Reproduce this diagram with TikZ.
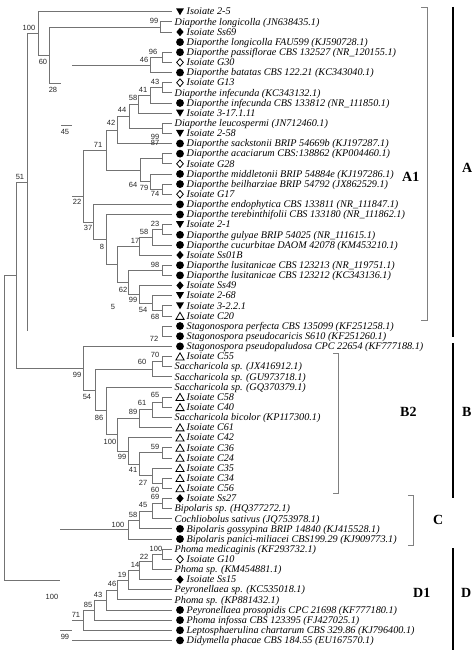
\documentclass[tikz,border=0pt]{standalone}
\usepackage{fontspec}
\setmainfont{Liberation Serif}
\newfontfamily\bsfont{Liberation Sans}
\usetikzlibrary{shapes.geometric}
\begin{document}
\begin{tikzpicture}[x=1pt,y=-1pt,
  br/.style={draw=black!55, line width=0.7pt},
  lf/.style={anchor=base west, inner sep=0pt, font=\fontsize{10.2}{10.2}\selectfont\itshape},
  bs/.style={inner sep=0pt, font=\bsfont\fontsize{7.5}{7.5}\selectfont, text=black!85},
  cl/.style={anchor=west, inner sep=0pt, font=\fontsize{14}{14}\selectfont\bfseries},
  mc/.style={circle, fill=black, inner sep=0pt, minimum size=7.8pt},
  mv/.style={regular polygon, regular polygon sides=3, shape border rotate=180, fill=black, inner sep=0pt, minimum size=9.2pt, yshift=1.1pt},
  md/.style={diamond, fill=black, inner sep=0pt, minimum width=7.4pt, minimum height=8.6pt},
  mod/.style={diamond, draw=black, line width=0.8pt, inner sep=0pt, minimum width=7pt, minimum height=8pt},
  mot/.style={regular polygon, regular polygon sides=3, draw=black, line width=0.8pt, inner sep=0pt, minimum size=9.4pt, yshift=-1.1pt},
  mn/.style={inner sep=0pt, minimum size=0pt},
  bar/.style={draw=black, line width=2.6pt},
  brk/.style={draw=black!50, line width=0.8pt}
]
\useasboundingbox (0,0) rectangle (474,650);

% ---------- leaves ----------
\foreach \i/\m/\tx/\t in {
 0/mv/186.5/Isoiate 2-5,
 1/mn/174.5/Diaporthe longicolla (JN638435.1),
 2/md/186.5/Isoiate Ss69,
 3/mc/186.5/Diaporthe longicolla FAU599 (KJ590728.1),
 4/mc/186.5/Diaporthe passiflorae CBS 132527 (NR\_120155.1),
 5/mod/186.5/Isoiate G30,
 6/mc/186.5/Diaporthe batatas CBS 122.21 (KC343040.1),
 7/mod/186.5/Isoiate G13,
 8/mn/174.5/Diaporthe infecunda (KC343132.1),
 9/mc/186.5/Diaporthe infecunda CBS 133812 (NR\_111850.1),
 10/mv/186.5/Isoiate 3-17.1.11,
 11/mn/174.5/Diaporthe leucospermi (JN712460.1),
 12/mv/186.5/Isoiate 2-58,
 13/mc/186.5/Diaporthe sackstonii BRIP 54669b (KJ197287.1),
 14/mc/186.5/Diaporthe acaciarum CBS:138862 (KP004460.1),
 15/mod/186.5/Isoiate G28,
 16/mc/186.5/Diaporthe middletonii BRIP 54884e (KJ197286.1),
 17/mc/186.5/Diaporthe beilharziae BRIP 54792 (JX862529.1),
 18/mod/186.5/Isoiate G17,
 19/mc/186.5/Diaporthe endophytica CBS 133811 (NR\_111847.1),
 20/mc/186.5/Diaporthe terebinthifolii CBS 133180 (NR\_111862.1),
 21/mv/186.5/Isoiate 2-1,
 22/mc/186.5/Diaporthe gulyae BRIP 54025 (NR\_111615.1),
 23/mc/186.5/Diaporthe cucurbitae DAOM 42078 (KM453210.1),
 24/md/186.5/Isoiate Ss01B,
 25/mc/186.5/Diaporthe lusitanicae CBS 123213 (NR\_119751.1),
 26/mc/186.5/Diaporthe lusitanicae CBS 123212 (KC343136.1),
 27/md/186.5/Isoiate Ss49,
 28/mv/186.5/Isoiate 2-68,
 29/mv/186.5/Isoiate 3-2.2.1,
 30/mot/186.5/Isoiate C20,
 31/mc/186.5/Stagonospora perfecta CBS 135099 (KF251258.1),
 32/mc/186.5/Stagonospora pseudocaricis S610 (KF251260.1),
 33/mc/186.5/Stagonospora pseudopaludosa CPC 22654 (KF777188.1),
 34/mot/186.5/Isoiate C55,
 35/mn/174.5/Saccharicola sp. (JX416912.1),
 36/mn/174.5/Saccharicola sp. (GU973718.1),
 37/mn/174.5/Saccharicola sp. (GQ370379.1),
 38/mot/186.5/Isoiate C58,
 39/mot/186.5/Isoiate C40,
 40/mn/174.5/Saccharicola bicolor (KP117300.1),
 41/mot/186.5/Isoiate C61,
 42/mot/186.5/Isoiate C42,
 43/mot/186.5/Isoiate C36,
 44/mot/186.5/Isoiate C24,
 45/mot/186.5/Isoiate C35,
 46/mot/186.5/Isoiate C34,
 47/mot/186.5/Isoiate C56,
 48/md/186.5/Isoiate Ss27,
 49/mn/174.5/Bipolaris sp. (HQ377272.1),
 50/mn/174.5/Cochliobolus sativus (JQ753978.1),
 51/mc/186.5/Bipolaris gossypina BRIP 14840 (KJ415528.1),
 52/mc/186.5/Bipolaris panici-miliacei CBS199.29 (KJ909773.1),
 53/mn/174.5/Phoma medicaginis (KF293732.1),
 54/mod/186.5/Isoiate G10,
 55/mn/174.5/Phoma sp. (KM454881.1),
 56/md/186.5/Isoiate Ss15,
 57/mn/174.5/Peyronellaea sp. (KC535018.1),
 58/mn/174.5/Phoma sp. (KP881432.1),
 59/mc/186.5/Peyronellaea prosopidis CPC 21698 (KF777180.1),
 60/mc/186.5/Phoma infossa CBS 123395 (FJ427025.1),
 61/mc/186.5/Leptosphaerulina chartarum CBS 329.86 (KJ796400.1),
 62/mc/186.5/Didymella phacae CBS 184.55 (EU167570.1)}
{
  \coordinate (l\i) at (172,{11.7+10.14*\i});
  \node[\m] (m\i) at (180,{11.7+10.14*\i}) {};
  \node[lf] (t\i) at (\tx,{15.0+10.14*\i}) {\t};
}

% ---------- internal nodes ----------
\coordinate (n99a) at (160,26.91);
\coordinate (n96) at (162,57.33);
\coordinate (n46) at (150,64.94);
\coordinate (n43) at (162,87.75);
\coordinate (n41) at (150,95.36);
\coordinate (n58) at (138,104.23);
\coordinate (n99b) at (162,128.31);
\coordinate (n44) at (129,116.27);
\coordinate (n42) at (117,129.90);
\coordinate (n87) at (162,158.73);
\coordinate (n74) at (162,189.15);
\coordinate (n79) at (150,181.55);
\coordinate (n64) at (140,170.14);
\coordinate (n71) at (106,150.02);
\coordinate (n23) at (162,229.71);
\coordinate (n58c) at (152,237.32);
\coordinate (n17) at (139,246.19);
\coordinate (n98) at (162,270.27);
\coordinate (n68) at (162,310.83);
\coordinate (n54) at (152,303.23);
\coordinate (n99c) at (139,294.36);
\coordinate (n62) at (128,282.32);
\coordinate (n5) at (117,264.26);
\coordinate (n8) at (106,239.38);
\coordinate (n37) at (93,221.87);
\coordinate (n22) at (83,185.95);
\coordinate (n22in) at (83,196);
\coordinate (n45) at (72,125.45);
\coordinate (n61) at (61,83.79);
\coordinate (n28) at (49,55.35);
\coordinate (n60) at (38,33.53);
\coordinate (n72) at (162,331.11);
\coordinate (nR) at (27,182.32);
\coordinate (n70) at (162,361.53);
\coordinate (n60B) at (152,369.14);
\coordinate (n65) at (162,402.09);
\coordinate (n61B) at (152,409.70);
\coordinate (n89) at (139,418.57);
\coordinate (n59) at (162,452.79);
\coordinate (n60C) at (162,483.21);
\coordinate (n27) at (152,475.61);
\coordinate (n41B) at (139,464.20);
\coordinate (n99d) at (128,450.89);
\coordinate (n100B) at (117,434.73);
\coordinate (n86) at (106,410.81);
\coordinate (n54B) at (95,389.98);
\coordinate (n99B) at (83,368.15);
\coordinate (n51) at (16,275.24);
\coordinate (n69) at (162,503.49);
\coordinate (n45C) at (152,511.10);
\coordinate (n58C) at (139,519.97);
\coordinate (n100C) at (128,529.48);
\coordinate (n100D) at (162,554.19);
\coordinate (n22D) at (152,561.80);
\coordinate (n14) at (139,570.67);
\coordinate (n19) at (128,580.18);
\coordinate (n46D) at (117,590.00);
\coordinate (n43D) at (106,599.98);
\coordinate (n85) at (94,610.04);
\coordinate (n71D) at (83,620.14);
\coordinate (n99D) at (72,630.26);
\coordinate (n100CD) at (60,579.87);
\coordinate (root) at (4,427.56);

% ---------- full branches ----------
\foreach \p/\c in {n60/l0, n60/n28, n28/n99a, n28/n61, n99a/l1, n99a/l2,
  n46/n96, n46/l6, n96/l4, n96/l5, n22/n71, n22/n37, n71/n42, n71/n64,
  n42/n44, n42/l13, n44/n58, n44/n99b, n58/n41, n58/l10, n41/n43, n41/l9,
  n43/l7, n43/l8, n99b/l11, n99b/l12, n64/n87, n64/n79, n87/l14, n87/l15,
  n79/l16, n79/n74, n74/l17, n74/l18, n37/l19, n37/n8, n8/l20, n8/n5,
  n5/n17, n5/n62, n17/n58c, n17/l24, n58c/n23, n58c/l23, n23/l21, n23/l22,
  n62/n98, n62/n99c, n98/l25, n98/l26, n99c/l27, n99c/n54, n54/l28, n54/n68,
  n68/l29, n68/l30, n72/l31, n72/l32, nR/n60, n51/nR, n51/n99B,
  n99B/l33, n99B/n54B, n54B/n60B, n54B/n86, n60B/n70, n60B/l36, n70/l34, n70/l35,
  n86/l37, n86/n100B, n100B/n89, n100B/n99d, n89/n61B, n89/l41, n61B/n65, n61B/l40,
  n65/l38, n65/l39, n99d/l42, n99d/n41B, n41B/n59, n41B/n27, n59/l43, n59/l44,
  n27/l45, n27/n60C, n60C/l46, n60C/l47, root/n51, root/n100CD,
  n100C/n58C, n100C/l52, n58C/n45C, n58C/l51, n45C/n69, n45C/l50, n69/l48, n69/l49,
  n71D/n85, n71D/l61, n85/n43D, n85/l60, n43D/n46D, n43D/l59, n46D/n19, n46D/l58,
  n19/n14, n19/l57, n14/n22D, n14/l56, n22D/n100D, n22D/l55, n100D/l53, n100D/l54}
  \draw[br] (\p) |- (\c);

% ---------- branches whose vertical part is not shown ----------
\foreach \p/\c in {n61/n45, n45/n46, n45/n22in, n100CD/n100C, n100CD/n99D, n99D/n71D, n99D/l62}
  \draw[br] (\p |- \c) -- (\c);
\draw[br] (nR) -- (nR |- n72);

% ---------- bootstrap values ----------
\foreach \v/\x/\y [count=\k] in {
 100/29/28, 99/154/21, 60/43/62, 28/53/90, 96/153/52, 46/144/60, 43/155/82,
 41/143/90, 58/133/98, 44/122/110, 99/155/137, 42/111/123, 45/65/132, 71/98/145,
 87/155/143, 64/133/185, 79/144/188, 74/155/194, 22/77/202, 51/20/177, 37/88/228,
 23/155/224, 58/144/232, 17/135/241, 8/102/247, 98/155/265, 5/113/307, 62/123/290,
 99/133/300, 54/143/310, 68/155/317, 72/154/339,
 70/155/355, 60/142/362, 99/77/375, 54/87/397, 65/155/395, 61/142/403, 89/133/412,
 86/99/418, 100/110/442, 59/155/447, 99/122/457, 41/133/470, 27/143/483, 60/155/490,
 69/155/497, 45/143/505, 58/133/515, 100/118/525,
 100/52/597, 100/156/549, 22/144/557, 14/135/565, 19/122/575, 46/112/584,
 43/98/595, 85/88/605, 71/76/615, 99/65/637}
  \node[bs] (b\k) at (\x,\y) {\v};

% ---------- clade brackets and bars ----------
\coordinate (a1t) at (427,7);
\coordinate (a1b) at (427,320);
\draw[brk] ([xshift=-6pt]a1t) -- (a1t) -- (a1b) -- ([xshift=-6pt]a1b);
\node[cl] (A1) at (402,177) {A1};

\coordinate (b2t) at (338,353);
\coordinate (b2b) at (338,493);
\draw[brk] ([xshift=-5pt]b2t) -- (b2t) -- (b2b) -- ([xshift=-5pt]b2b);
\node[cl] (B2) at (400,412) {B2};

\coordinate (ct) at (413,495);
\coordinate (cb) at (413,545);
\draw[brk] ([xshift=-5pt]ct) -- (ct) -- (cb) -- ([xshift=-5pt]cb);
\node[cl] (C) at (433,520) {C};

\node[cl] (D1) at (413,593) {D1};

\coordinate (at) at (453,7);
\coordinate (ab) at (453,337);
\draw[bar] (at) -- (ab);
\node[cl] (A) at (462,168) {A};

\coordinate (bt) at (453,343);
\coordinate (bb) at (453,498);
\draw[bar] (bt) -- (bb);
\node[cl] (B) at (462,412) {B};

\coordinate (dt) at (453,548);
\coordinate (db) at (453,650);
\draw[bar] (dt) -- (db);
\node[cl] (D) at (461,593) {D};
\end{tikzpicture}
\end{document}
